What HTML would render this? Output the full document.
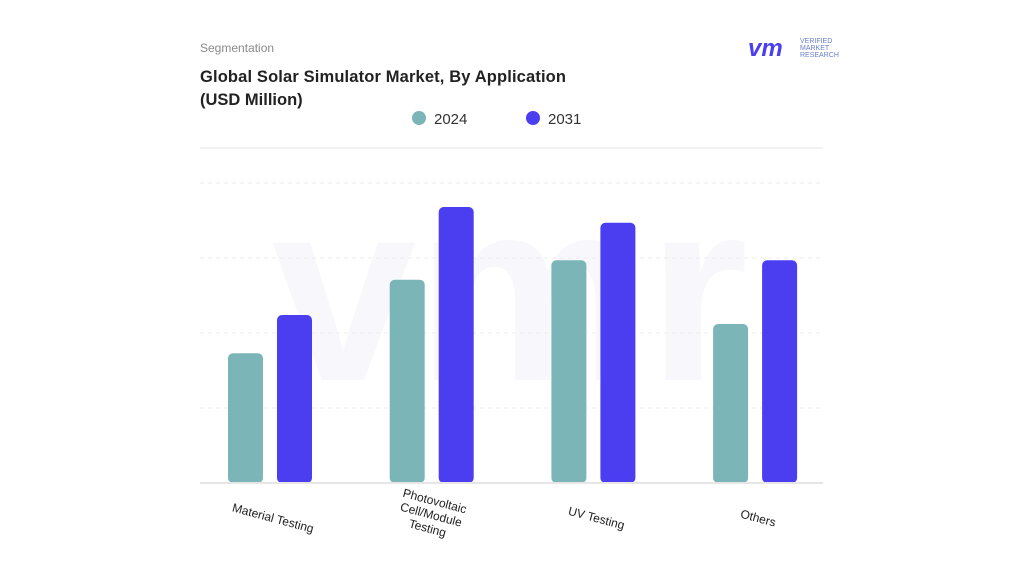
<!DOCTYPE html>
<html><head><meta charset="utf-8"><style>
body{margin:0;width:1024px;height:576px;background:#fff;overflow:hidden;font-family:"Liberation Sans",sans-serif}
</style></head><body>
<svg width="1024" height="576">
<text x="200" y="52" font-size="12" fill="#8a8a8a">Segmentation</text>
<text x="200" y="82" font-size="16.5" font-weight="bold" fill="#222" textLength="366">Global Solar Simulator Market, By Application</text>
<text x="200" y="105" font-size="16.5" font-weight="bold" fill="#222">(USD Million)</text>
<g>
<text x="748" y="56" font-size="24" font-weight="bold" fill="#4b3ef0" font-style="italic">vm</text>
<text x="800" y="43" font-size="7" fill="#6a7fc8">VERIFIED</text>
<text x="800" y="50" font-size="7" fill="#6a7fc8">MARKET</text>
<text x="800" y="57" font-size="7" fill="#6a7fc8">RESEARCH</text>
</g>
<g>
<circle cx="419" cy="118" r="7" fill="#7bb5b7"/>
<text x="434" y="124" font-size="15" fill="#333">2024</text>
<circle cx="533" cy="118" r="7" fill="#4b3ef0"/>
<text x="548" y="124" font-size="15" fill="#333">2031</text>
</g>
<line x1="200" x2="823" y1="148" y2="148" stroke="#e6e6e6"/>
<text x="510" y="380" font-size="260" font-weight="bold" fill="#f8f8fc" text-anchor="middle">vmr</text>
<g id="grid"></g><g id="bars"></g><g id="labels"></g>
<line x1="200" x2="823" y1="483" y2="483" stroke="#e6e6e6" stroke-width="2"/>
</svg>
<script>
const categories=[["Material Testing"],["Photovoltaic","Cell/Module","Testing"],["UV Testing"],["Others"]];
const values2024=[1.73,2.71,2.97,2.12];
const values2031=[2.24,3.68,3.47,2.97];
const gridTicks=[1,2,3,4];
const ns="http://www.w3.org/2000/svg";
const y=v=>483-v*75;
const xc=i=>270+i*161.7;
const grid=document.getElementById('grid');
gridTicks.forEach(t=>{const l=document.createElementNS(ns,'line');
l.setAttribute('x1',200);l.setAttribute('x2',823);l.setAttribute('y1',y(t));l.setAttribute('y2',y(t));
l.setAttribute('stroke','#ececec');l.setAttribute('stroke-dasharray','4 4');


grid.appendChild(l);});
const bars=document.getElementById('bars');
function bar(x,v,c,n){const r=document.createElementNS(ns,'rect');
r.setAttribute('x',x);r.setAttribute('y',y(v));r.setAttribute('width',35);r.setAttribute('height',483-y(v));
r.setAttribute('rx',5);r.setAttribute('fill',c);


bars.appendChild(r);}
const labels=document.getElementById('labels');
categories.forEach((c,i)=>{
bar(xc(i)-42,values2024[i],'#7bb5b7','bar-2024');
bar(xc(i)+7,values2031[i],'#4b3ef0','bar-2031');
const t=document.createElementNS(ns,'text');
const lx=xc(i)+2, ly=c.length>1?505:522;
t.setAttribute('transform',`translate(${lx},${ly}) rotate(15)`);
t.setAttribute('font-size','12');t.setAttribute('fill','#222');t.setAttribute('text-anchor','middle');


c.forEach((s,k)=>{const ts=document.createElementNS(ns,'tspan');ts.setAttribute('x',0);ts.setAttribute('dy',k?14:0);ts.textContent=s;t.appendChild(ts);});
labels.appendChild(t);});
</script>
</body></html>
